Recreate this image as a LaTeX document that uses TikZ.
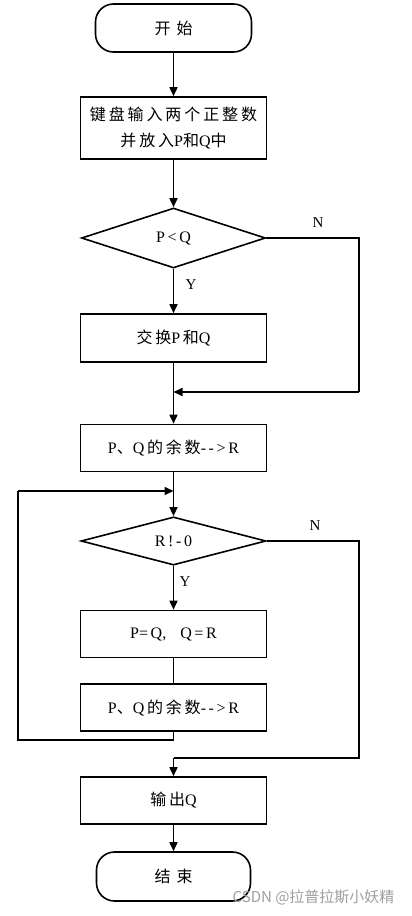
\documentclass[tikz,border=0pt]{standalone}
\usepackage{fontspec}
\setmainfont{Liberation Serif}
\newfontfamily\cjk[LetterSpace=18]{Noto Sans CJK SC}
\newfontfamily\wmfont{Noto Sans CJK SC}
\usetikzlibrary{shapes.geometric,arrows.meta}
\newcommand{\zh}[1]{{\cjk #1}}
\tikzset{
  base/.style={draw=black, line width=1.6pt, fill=white, inner sep=0pt, align=center,
     font=\fontsize{16}{26}\selectfont},
  term/.style={base, rectangle, rounded corners=18pt, minimum width=156pt, minimum height=48pt},
  procbox/.style={base, rectangle, minimum width=186pt, minimum height=47pt},
  decide/.style={base, diamond, minimum width=184pt, minimum height=60pt},
  flow/.style={line width=1.6pt, -{Triangle[width=8pt,length=9pt]}},
  plain/.style={line width=1.6pt},
  yn/.style={font=\fontsize{15}{15}\selectfont},
}
\begin{document}
\begin{tikzpicture}[x=1pt,y=-1pt]
\useasboundingbox (0,0) rectangle (412,916);
\fill[white] (0,0) rectangle (412,916);

\node[term] (start) at (173.5,28) {\zh{开\hspace{6pt}始}};
\node[procbox, minimum height=62pt] (in) at (173.5,128) {\zh{键盘输入两个\hspace{3pt}正整数}\\\zh{并放入}P\zh{和}Q\zh{中}};
\node[decide] (d1) at (173.5,238) {P\,<\,Q};
\node[procbox, minimum height=48pt] (swap) at (173.5,338) {\zh{交换}P\,\zh{和}Q};
\node[procbox] (rem1) at (173.5,448) {P\zh{、}Q\,\zh{的余数}-\,-\,>\,R};
\node[decide, minimum height=48pt, minimum width=185pt] (d2) at (173.5,541) {R\,!\,-\,0};
\node[procbox] (assign) at (173.5,634) {P=\,Q,\hspace{14pt}Q\,=\,R};
\node[procbox] (rem2) at (173.5,707.5) {P\zh{、}Q\,\zh{的余数}-\,-\,>\,R};
\node[procbox] (out) at (173.5,800.5) {\zh{输出}Q};
\node[term, minimum width=154pt, minimum height=49pt] (end) at (173.5,876.5) {\zh{结\hspace{6pt}束}};

\coordinate (j1) at (173.5,392);
\coordinate (r1) at (359,238);
\coordinate (r2) at (359,392);
\coordinate (j2) at (173.5,491);
\coordinate (l1) at (173.5,740);
\coordinate (l2) at (18,740);
\coordinate (l3) at (18,491);
\coordinate (n1) at (359,541);
\coordinate (n2) at (359,758);
\coordinate (j3) at (173.5,758);

\draw[flow] (start) -- (in);
\draw[flow] (in) -- (d1);
\draw[flow] (d1) -- node[yn, right=8pt, pos=0.35] (ylab1) {Y} (swap);
\draw[plain] (d1.east) -- (r1) -- (r2);
\draw[flow] (r2) -- (j1);
\node[yn] (nlab1) at (318,223) {N};
\draw[plain] (swap) -- (j1);
\draw[flow] (j1) -- (rem1);
\draw[plain] (rem1) -- (j2);
\draw[flow] (j2) -- (d2);
\draw[flow] (d2) -- node[yn, right=2pt, pos=0.35] (ylab2) {Y} (assign);
\draw[plain] (assign) -- (rem2);
\draw[plain] (rem2) -- (l1) -- (l2) -- (l3);
\draw[flow] (l3) -- (j2);
\draw[plain] (d2.east) -- (n1) -- (n2) -- (j3);
\node[yn] (nlab2) at (315,526) {N};
\draw[flow] (j3) -- (out);
\draw[flow] (out) -- (end);

\node[anchor=east, text=gray!75, font=\wmfont\fontsize{15}{15}\selectfont] (wm) at (398,897) {CSDN @拉普拉斯小妖精};
\end{tikzpicture}
\end{document}
